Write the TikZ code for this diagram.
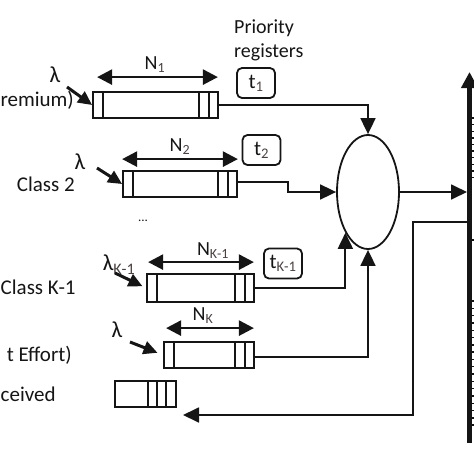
\documentclass[tikz,border=0pt]{standalone}
\usepackage{fontspec}
\setmainfont{Carlito}
\usetikzlibrary{arrows.meta,shapes.geometric}
\definecolor{ink}{HTML}{151515}
\definecolor{subink}{HTML}{4A4242}
\newcommand{\sbs}[1]{\textsubscript{\color{subink}#1}}
\begin{document}
\begin{tikzpicture}[x=1pt,y=-1pt,
  font=\fontsize{21}{25}\selectfont, text=ink,
  queue/.style={draw=ink, line width=1.8pt, inner sep=0pt, minimum height=26pt,
    path picture={
      \draw[line width=1.6pt] ([xshift=10pt]path picture bounding box.south west) -- ([xshift=10pt]path picture bounding box.north west);
      \draw[line width=1.6pt] ([xshift=-19pt]path picture bounding box.south east) -- ([xshift=-19pt]path picture bounding box.north east);
      \draw[line width=1.6pt] ([xshift=-9pt]path picture bounding box.south east) -- ([xshift=-9pt]path picture bounding box.north east);
    }},
  rcvbox/.style={draw=ink, line width=1.8pt, inner sep=0pt, minimum height=26pt, minimum width=61pt,
    path picture={
      \draw[line width=1.6pt] ([xshift=-28pt]path picture bounding box.south east) -- ([xshift=-28pt]path picture bounding box.north east);
      \draw[line width=1.6pt] ([xshift=-19pt]path picture bounding box.south east) -- ([xshift=-19pt]path picture bounding box.north east);
      \draw[line width=1.6pt] ([xshift=-10pt]path picture bounding box.south east) -- ([xshift=-10pt]path picture bounding box.north east);
    }},
  reg/.style={draw=ink, rounded corners=5pt, line width=1.8pt, minimum width=38pt, minimum height=30pt, inner sep=0pt},
  conn/.style={draw=ink, line width=1.8pt, -{Triangle[length=16pt,width=15pt]}},
  span/.style={draw=ink, line width=2.6pt, {Triangle[length=15pt,width=15pt]}-{Triangle[length=15pt,width=15pt]}},
  lamarr/.style={draw=ink, line width=3pt, -{Triangle[length=14pt,width=13pt]}},
  tick/.style={draw=ink, line width=1.4pt},
  lbl/.style={inner sep=0pt},
  lam/.style={font=\fontsize{23}{26}\selectfont, inner sep=0pt},
  nlab/.style={font=\fontsize{20}{24}\selectfont, inner sep=0pt}
]
\useasboundingbox (0,0) rectangle (474,474);
\clip (0,0) rectangle (474,474);

% header
\node[inner sep=0pt, anchor=west, align=left, font=\fontsize{20}{24}\selectfont] (prio) at (234,40) {Priority\\registers};

% queues
\node[queue, minimum width=125pt] (q1) at (155.5,105) {};
\node[queue, minimum width=114pt] (q2) at (180,184) {};
\node[queue, minimum width=107pt, minimum height=28pt] (qk1) at (200.5,288) {};
\node[queue, minimum width=90pt] (qk) at (209,355) {};
\node[rcvbox] (rcv) at (145.5,394) {};

% class labels
\node[lbl, anchor=east] (c1) at (74,100) {remium)};
\node[lbl, anchor=east] (c2) at (75,184) {Class 2};
\node[lbl, anchor=west] (ck1) at (0.5,287) {Class K-1};
\node[lbl, anchor=east] (ck) at (72,355) {t Effort)};
\node[lbl, anchor=west] (cr) at (0.5,394) {ceived};
\node[font=\fontsize{13}{15}\selectfont] (dots) at (143,221) {...};

% lambdas
\node[lam] (l1) at (55,75) {λ};
\node[lam] (l2) at (80,162) {λ};
\node[lam] (lk1) at (119,265) {λ\sbs{K-1}};
\node[lam] (lk) at (117,330) {λ};
\coordinate (a1) at (67,87);
\coordinate (a2) at (97,168);
\coordinate (ak1) at (115,273);
\coordinate (ak) at (130,342);
\draw[lamarr] (a1) -- (q1.west);
\draw[lamarr] (a2) -- (q2.west);
\draw[lamarr, shorten >=4pt] (ak1) -- (qk1.west);
\draw[lamarr, shorten >=6pt] (ak) -- (qk.west);

% N spans
\node[nlab] (n1) at (155,65) {N\sbs{1}};
\node[nlab] (n2) at (180,147) {N\sbs{2}};
\node[nlab] (nk1) at (213,251) {N\sbs{K-1}};
\node[nlab] (nk) at (203,316) {N\sbs{K}};
\draw[span] ([xshift=5pt,yshift=14pt]q1.north west) -- ([xshift=-1pt,yshift=14pt]q1.north east);
\draw[span] ([yshift=11pt]q2.north west) -- ([yshift=11pt]q2.north east);
\draw[span] ([xshift=2pt,yshift=11pt]qk1.north west) -- ([xshift=-1pt,yshift=11pt]qk1.north east);
\draw[span] ([xshift=3pt,yshift=13pt]qk.north west) -- ([xshift=-1pt,yshift=13pt]qk.north east);

% registers
\node[reg] (t1) at (256,83) {t\sbs{1}};
\node[reg] (t2) at (261.5,150) {t\sbs{2}};
\node[reg] (tk1) at (283,263.5) {t\sbs{K-1}};

% scheduler
\node[draw=ink, line width=1.8pt, ellipse, minimum width=62pt, minimum height=114pt, inner sep=0pt] (sched) at (368,192) {};

\draw[conn] (q1.east) -| (sched.north);
\draw[conn] ([yshift=2pt]q2.east) -- ++(50,0) |- (sched.west);
\draw[conn] (qk1.east) -| (sched.241);
\draw[conn] ([yshift=-2pt]qk.east) -| (sched.south);

% output bar
\coordinate (barbot) at (469.5,443);
\coordinate (bartop) at (469.5,72);
\coordinate (barin) at (467,192);
\coordinate (fb) at (467,222);
\coordinate (fbend) at (183,415);
\draw[draw=ink, line width=5.5pt, -{Triangle[length=16pt,width=16pt]}] (barbot) -- (bartop);
\draw[conn] (sched.east) -- (barin);
\draw[conn] (fb) -- ++(-54,0) |- (fbend);

\foreach \i in {0,...,9} \draw[tick] (471,118+\i*6.6) -- (478,118+\i*6.6);
\draw[tick] (471,240) -- (478,240);
\foreach \i in {0,...,17} \draw[tick] (471,301+\i*7.3) -- (478,301+\i*7.3);
\end{tikzpicture}
\end{document}
